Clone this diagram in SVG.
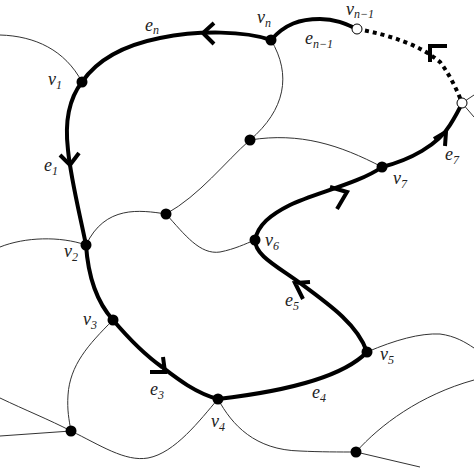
<svg xmlns="http://www.w3.org/2000/svg" width="474" height="474" viewBox="0 0 474 474">
<style>
.thin{fill:none;stroke:#333;stroke-width:1}
.thick{fill:none;stroke:#000;stroke-width:4;stroke-linecap:round}
.dot{fill:none;stroke:#000;stroke-width:4;stroke-dasharray:4 4}
.arr{fill:none;stroke:#000;stroke-width:4;stroke-linejoin:miter;stroke-linecap:butt}
.n{fill:#000}
.o{fill:#fff;stroke:#000;stroke-width:1}
text{font-family:"Liberation Serif","Times New Roman",serif;font-style:italic;font-size:18px;fill:#222}
.s{font-size:12px}
</style>
<rect width="474" height="474" fill="#fff"/>
<g id="connectors">
<path class="thin" d="M0,35 C35,36 65,50 82,82"/>
<path class="thin" d="M271,40 C292,75 285,110 250,140 C225,162 200,195 166,214"/>
<path class="thin" d="M250,140 C300,132 340,145 382,167"/>
<path class="thin" d="M166,214 C140,210 105,205 86,245"/>
<path class="thin" d="M166,214 C185,235 200,255 220,252 C235,249 245,244 255,240"/>
<path class="thin" d="M0,247 C25,237 60,236 86,245"/>
<path class="thin" d="M113,320 C88,345 70,365 68,395 C67,410 69,420 71,431"/>
<path class="thin" d="M71,431 C50,420 25,410 0,398"/>
<path class="thin" d="M71,431 L0,436"/>
<path class="thin" d="M71,431 C100,445 125,462 148,458 C175,453 200,420 218,399"/>
<path class="thin" d="M218,399 C232,425 255,450 300,451 C320,452 340,452 356,452"/>
<path class="thin" d="M356,452 L420,467"/>
<path class="thin" d="M356,452 C380,425 420,395 474,380"/>
<path class="thin" d="M367,352 C395,340 420,333 440,334 C455,336 465,342 474,348"/>
<path class="thin" d="M462,103 L474,95 M462,103 L474,117"/>
<path class="thick" d="M271,40 C245,31 200,30 160,38 C125,45 97,60 82,82"/>
<path class="thick" d="M82,82 C68,100 65,125 68,150 C71,180 80,215 86,245"/>
<path class="thick" d="M86,245 C88,275 95,300 113,320"/>
<path class="thick" d="M113,320 C130,340 145,355 162,367 C175,377 195,393 218,399"/>
<path class="thick" d="M218,399 C270,393 340,380 367,352"/>
<path class="thick" d="M367,352 C358,325 330,305 300,283 C275,265 255,255 255,240"/>
<path class="thick" d="M255,240 C258,225 270,215 290,205 C315,193 360,183 382,167"/>
<path class="thick" d="M382,167 C410,160 438,145 450,125 C455,117 459,110 462,103"/>
<path class="thick" d="M271,40 C285,24 300,19 320,19 C337,19 348,25 357,29"/>
<path class="dot" d="M357,29 C390,35 420,45 440,62 C450,75 457,90 462,103"/>
<path class="arr" d="M214,23 L203,33 L214,44"/>
<path class="arr" d="M60,155 L70,165 L79,153"/>
<path class="arr" d="M150,372 L165,372 L163,357"/>
<path class="arr" d="M310,282 L295,283 L303,299"/>
<path class="arr" d="M330,187 L347,192 L337,209"/>
<path class="arr" d="M434,139 L446,132 L445,146"/>
<path class="arr" d="M447,46 L430,46 L430,62"/>
</g>
<g id="v1"><circle class="n" cx="82" cy="82" r="5.5"/><text x="48" y="85">v<tspan class="s" dy="4">1</tspan></text></g>
<g id="vn"><circle class="n" cx="271" cy="40" r="5.5"/><text x="257" y="23">v<tspan class="s" dy="4">n</tspan></text></g>
<g id="vn-1"><circle class="o" cx="357" cy="29" r="5"/><text x="346" y="15">v<tspan class="s" dy="3">n−1</tspan></text></g>
<g id="vx"><circle class="o" cx="462" cy="103" r="5"/></g>
<g id="v7"><circle class="n" cx="382" cy="167" r="5.5"/><text x="393" y="184">v<tspan class="s" dy="4">7</tspan></text></g>
<g id="a1"><circle class="n" cx="250" cy="140" r="5.5"/></g>
<g id="a2"><circle class="n" cx="166" cy="214" r="5.5"/></g>
<g id="v2"><circle class="n" cx="86" cy="245" r="5.5"/><text x="64" y="257">v<tspan class="s" dy="4">2</tspan></text></g>
<g id="v3"><circle class="n" cx="113" cy="320" r="5.5"/><text x="83" y="325">v<tspan class="s" dy="4">3</tspan></text></g>
<g id="v4"><circle class="n" cx="218" cy="399" r="5.5"/><text x="211" y="427">v<tspan class="s" dy="4">4</tspan></text></g>
<g id="a3"><circle class="n" cx="71" cy="431" r="5.5"/></g>
<g id="v5"><circle class="n" cx="367" cy="352" r="5.5"/><text x="380" y="360">v<tspan class="s" dy="4">5</tspan></text></g>
<g id="v6"><circle class="n" cx="255" cy="240" r="5.5"/><text x="265" y="246">v<tspan class="s" dy="4">6</tspan></text></g>
<g id="a4"><circle class="n" cx="356" cy="452" r="5.5"/></g>
<g id="labels">
<text x="145" y="31">e<tspan class="s" dy="3">n</tspan></text>
<text x="305" y="44">e<tspan class="s" dy="4">n−1</tspan></text>
<text x="44" y="171">e<tspan class="s" dy="4">1</tspan></text>
<text x="150" y="395">e<tspan class="s" dy="4">3</tspan></text>
<text x="312" y="398">e<tspan class="s" dy="4">4</tspan></text>
<text x="285" y="306">e<tspan class="s" dy="4">5</tspan></text>
<text x="445" y="160">e<tspan class="s" dy="4">7</tspan></text>
</g>
</svg>
